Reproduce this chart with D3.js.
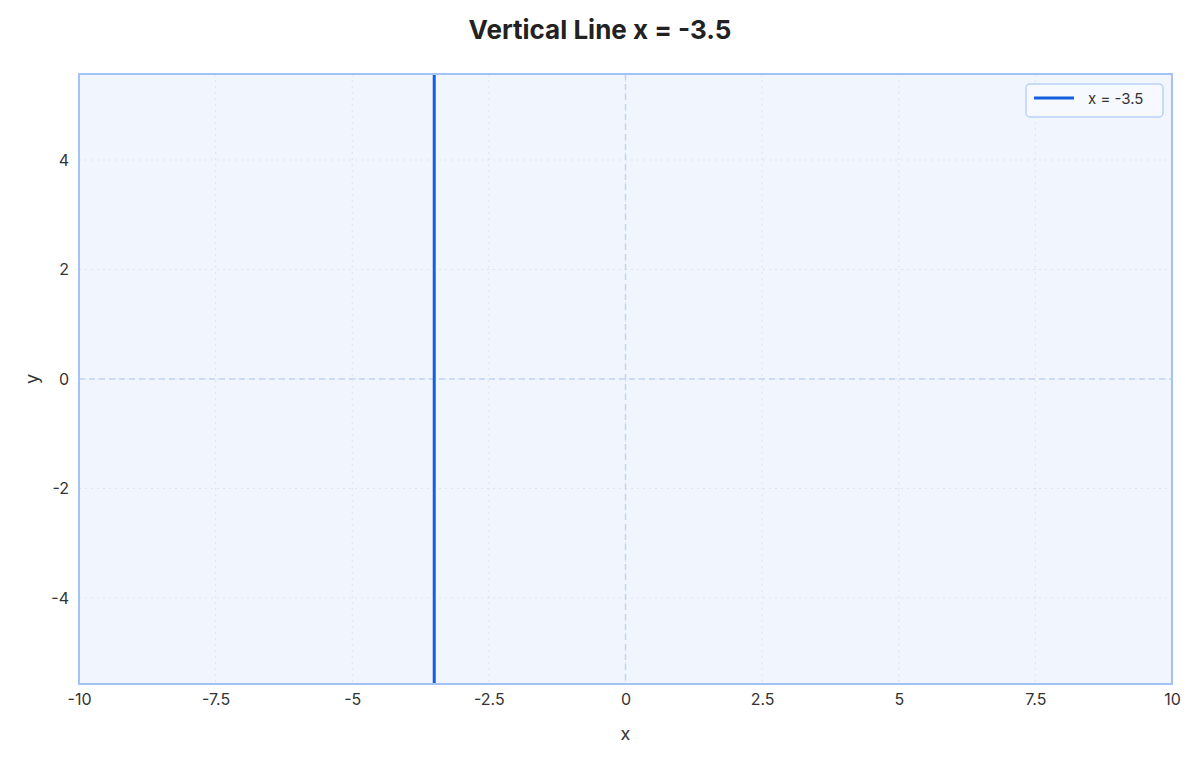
<!DOCTYPE html>
<html><head><meta charset="utf-8">
<script src="https://cdn.jsdelivr.net/npm/d3@7"></script>
<style>body{margin:0;background:#fff;font-family:Inter,"Noto Sans",sans-serif;}</style>
</head><body><div id="main"></div>
<script>
const xTicks = [-10, -7.5, -5, -2.5, 0, 2.5, 5, 7.5, 10];
const yTicks = [-4, -2, 0, 2, 4];
const xDomain = [-10, 10];
const yDomain = [-5.57, 5.57];
const lineX = [-3.5];
const legendLabels = ["x = -3.5"];

const W = 1200, H = 761, m = {l: 79, r: 28, t: 74, b: 77};
const svg = d3.select("#main").append("svg").attr("width", W).attr("height", H);
const x = d3.scaleLinear().domain(xDomain).range([m.l, W - m.r]);
const y = d3.scaleLinear().domain(yDomain).range([H - m.b, m.t]);

svg.append("rect").attr("x", m.l).attr("y", m.t)
  .attr("width", W - m.l - m.r).attr("height", H - m.t - m.b)
  .attr("fill", "#f1f6fe");

const g = svg.append("g");
g.selectAll(".gx").data(xTicks).join("line")
  .attr("x1", d => x(d)).attr("x2", d => x(d)).attr("y1", m.t).attr("y2", H - m.b)
  .attr("stroke", "#dce4f2").attr("stroke-dasharray", "2,4");
g.selectAll(".gy").data(yTicks).join("line")
  .attr("y1", d => y(d)).attr("y2", d => y(d)).attr("x1", m.l).attr("x2", W - m.r)
  .attr("stroke", "#dce4f2").attr("stroke-dasharray", "2,4");

// zero axes
svg.append("line").attr("x1", x(0)).attr("x2", x(0)).attr("y1", m.t).attr("y2", H - m.b)
  .attr("stroke", "#c2d4f2").attr("stroke-width", 1.5).attr("stroke-dasharray", "6,4");
svg.append("line").attr("y1", y(0)).attr("y2", y(0)).attr("x1", m.l).attr("x2", W - m.r)
  .attr("stroke", "#c2d4f2").attr("stroke-width", 1.5).attr("stroke-dasharray", "6,4");

svg.selectAll(".vl").data(lineX).join("line")
  .attr("x1", d => x(d)).attr("x2", d => x(d)).attr("y1", y(yDomain[1])).attr("y2", y(yDomain[0]))
  .attr("stroke", "#1260e0").attr("stroke-width", 3);

svg.append("rect").attr("x", m.l).attr("y", m.t)
  .attr("width", W - m.l - m.r).attr("height", H - m.t - m.b)
  .attr("fill", "none").attr("stroke", "#a3c2f5").attr("stroke-width", 2);

const fmt = d => String(d);
const xa = svg.append("g").attr("transform", `translate(0,${H - m.b})`)
  .call(d3.axisBottom(x).tickValues(xTicks).tickSize(0).tickPadding(10).tickFormat(fmt));
const ya = svg.append("g").attr("transform", `translate(${m.l},0)`)
  .call(d3.axisLeft(y).tickValues(yTicks).tickSize(0).tickPadding(10).tickFormat(fmt));
[xa, ya].forEach(a => {
  a.select(".domain").remove();
  a.selectAll("text").attr("font-size", 16).attr("fill", "#333").attr("font-family", "Inter, sans-serif");
});

svg.append("text").attr("x", W / 2).attr("y", 39).attr("text-anchor", "middle")
  .attr("font-size", 26).attr("font-weight", "bold").attr("fill", "#222").text("Vertical Line x = -3.5");
svg.append("text").attr("x", (m.l + W - m.r) / 2).attr("y", 740).attr("text-anchor", "middle")
  .attr("font-size", 18).attr("fill", "#333").text("x");
svg.append("text").attr("transform", `translate(38,${y(0)}) rotate(-90)`).attr("text-anchor", "middle")
  .attr("font-size", 18).attr("fill", "#333").text("y");

const lg = svg.append("g").attr("transform", "translate(1026,84)");
lg.append("rect").attr("width", 137).attr("height", 33).attr("rx", 4)
  .attr("fill", "#f6f9fe").attr("stroke", "#b9d1f7").attr("stroke-width", 1.5);
lg.append("line").attr("x1", 8).attr("x2", 48).attr("y1", 14).attr("y2", 14)
  .attr("stroke", "#1260e0").attr("stroke-width", 3);
lg.append("text").attr("x", 62).attr("y", 20).attr("font-size", 15).attr("fill", "#333").text(legendLabels[0]);
</script></body></html>
